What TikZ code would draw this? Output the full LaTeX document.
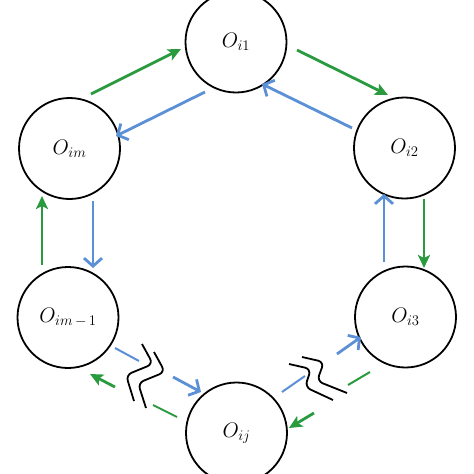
\RequirePackage{fix-cm}
\documentclass[tikz,border=0pt]{standalone}
\usetikzlibrary{arrows.meta}
\definecolor{gr}{HTML}{2A9A3F}
\definecolor{bl}{HTML}{5B8FD6}
\begin{document}
\begin{tikzpicture}[x=1pt,y=-1pt,
  obj/.style={circle,draw=black,line width=1.8pt,minimum size=101pt,inner sep=0pt,font=\fontsize{21}{25}\selectfont},
  garr/.style={draw=gr,line width=2.8pt,-{Stealth[length=13pt,width=12pt,inset=3pt]}},
  barr/.style={draw=bl,line width=2.8pt,-{Straight Barb[length=8pt,width=18pt]}},
  gseg/.style={draw=gr,line width=2pt},
  bseg/.style={draw=bl,line width=2pt},
  brk/.style={draw=black,line width=1.8pt,rounded corners=6pt}]
\useasboundingbox (0,0) rectangle (474,474);
\node[obj] (o1) at (236,42) {$O_{i1}$};
\node[obj] (om) at (69.5,148.5) {$O_{im}$};
\node[obj] (o2) at (404.5,148) {$O_{i2}$};
\node[obj] (omm) at (68,317.5) {$O_{im\,-\,1}$};
\node[obj] (o3) at (405.5,317) {$O_{i3}$};
\node[obj] (oj) at (236.5,433) {$O_{ij}$};
% top arrows
\coordinate (a1s) at (91,94);   \coordinate (a1e) at (181,49);
\coordinate (a2s) at (205,92);  \coordinate (a2e) at (116,136);
\coordinate (a3s) at (297,50);  \coordinate (a3e) at (388,95);
\coordinate (a4s) at (352,128); \coordinate (a4e) at (262,84);
\draw[garr] (a1s) -- (a1e);
\draw[barr] (a2s) -- (a2e);
\draw[garr] (a3s) -- (a3e);
\draw[barr] (a4s) -- (a4e);
% vertical arrows
\coordinate (v1s) at (42,265);  \coordinate (v1e) at (42,196);
\coordinate (v2s) at (93,201);  \coordinate (v2e) at (93,268);
\coordinate (v3s) at (384,262); \coordinate (v3e) at (384,194);
\coordinate (v4s) at (424,199); \coordinate (v4e) at (424,268);
\draw[garr] (v1s) -- (v1e);
\draw[barr] (v2s) -- (v2e);
\draw[barr] (v3s) -- (v3e);
\draw[garr] (v4s) -- (v4e);
% bottom left broken arrows
\coordinate (b1s) at (115,348); \coordinate (b1m) at (139,361);
\coordinate (b1n) at (173,377); \coordinate (b1e) at (201,392);
\draw[bseg] (b1s) -- (b1m);
\draw[barr] (b1n) -- (b1e);
\coordinate (g1s) at (177,417); \coordinate (g1m) at (153,405);
\coordinate (g1n) at (115,387); \coordinate (g1e) at (90,374);
\draw[gseg] (g1s) -- (g1m);
\draw[garr] (g1n) -- (g1e);
% bottom right broken arrows
\coordinate (b2s) at (282,392); \coordinate (b2m) at (305,376);
\coordinate (b2n) at (337,354); \coordinate (b2e) at (361,337);
\draw[bseg] (b2s) -- (b2m);
\draw[barr] (b2n) -- (b2e);
\coordinate (g2s) at (370,372); \coordinate (g2m) at (348,385);
\coordinate (g2n) at (314,413); \coordinate (g2e) at (289,428);
\draw[gseg] (g2s) -- (g2m);
\draw[garr] (g2n) -- (g2e);
% break symbols
\draw[brk] (142,344) -- (153,364) -- (126,375) -- (134,401);
\draw[brk] (154,352) -- (165,372) -- (138,383) -- (146,408);
\draw[brk] (289,364) -- (311,369) -- (305,387) -- (333,400);
\draw[brk] (302,357) -- (324,362) -- (317,381) -- (347,393);
\end{tikzpicture}
\end{document}
